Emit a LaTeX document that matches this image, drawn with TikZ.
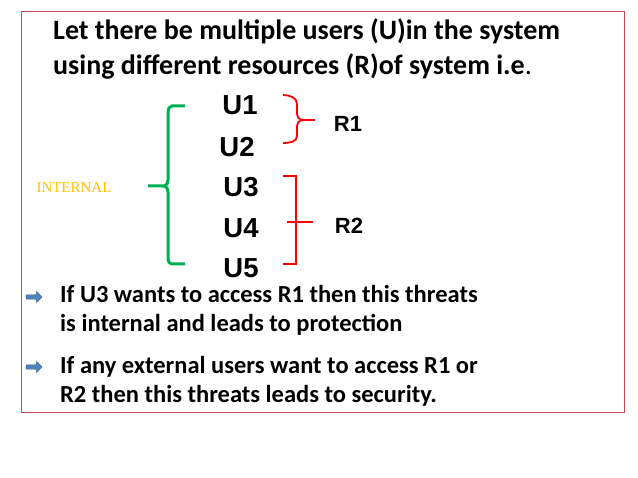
\documentclass[tikz,border=0pt]{standalone}
\usepackage{fontspec}
\setmainfont{Carlito}
\newfontfamily\arialfont{Liberation Sans}
\newfontfamily\serifont{Liberation Serif}
\usetikzlibrary{shapes.arrows}
\definecolor{frame}{RGB}{192,80,77}
\definecolor{bracegreen}{RGB}{0,176,80}
\definecolor{internalorange}{RGB}{255,192,0}
\definecolor{arrowblue}{RGB}{79,129,189}
\tikzset{
  user/.style={font=\arialfont\bfseries\fontsize{27.5}{27.5}\selectfont, anchor=center, inner sep=0pt},
  body/.style={font=\bfseries\fontsize{24.5}{29}\selectfont, anchor=north west, align=left, inner sep=0pt},
  bullet/.style={single arrow, fill=arrowblue, draw=arrowblue!70!black, line width=0.4pt,
    minimum height=16pt, minimum width=11pt, single arrow head extend=2.5pt,
    single arrow head indent=0pt, inner sep=1.5pt}
}
\begin{document}
\begin{tikzpicture}[x=1pt,y=-1pt]
    \useasboundingbox (0,0) rectangle (638,478);
    \draw[frame, line width=1pt] (21,12) rectangle (624,413);
    \node[body, font=\bfseries\fontsize{28}{35}\selectfont] (title) at (53,19)
      {Let there be multiple users (U)in the system\\using different resources (R)of system i.e{\mdseries .}};
    % users
    \node[user] (u1) at (240,105) {U1};
    \node[user] (u2) at (237,147) {U2};
    \node[user] (u3) at (241,187) {U3};
    \node[user] (u4) at (241,228) {U4};
    \node[user] (u5) at (241,268) {U5};
    \node[user, font=\arialfont\bfseries\fontsize{22}{22}\selectfont] (r1) at (348,124) {R1};
    \node[user, font=\arialfont\bfseries\fontsize{22}{22}\selectfont] (r2) at (349,226) {R2};
    \node[font=\serifont\fontsize{15}{15}\selectfont, text=internalorange, inner sep=0pt] (int) at (74,188) {INTERNAL};
    % braces
    \draw[bracegreen, line width=3pt] (185,106) -- (172,106) to[out=180,in=90] (168,112)
      -- (168,180) to[out=-90,in=0] (164,186) -- (148,186);
    \draw[bracegreen, line width=3pt] (164,186) to[out=0,in=90] (168,192)
      -- (168,259) to[out=-90,in=180] (172,264) -- (185,264);
    \draw[red, line width=1.8pt] (283,95) to[out=0,in=90] (297,104) -- (297,114)
      to[out=-90,in=180] (302,120) -- (315,120);
    \draw[red, line width=1.8pt] (302,120) to[out=180,in=90] (297,126) -- (297,136)
      to[out=-90,in=0] (283,143);
    \draw[red, line width=1.8pt] (283,176) -- (296,176) -- (296,264) -- (283,264);
    \draw[red, line width=1.8pt] (287,222) -- (313,222);
    % bullets
    \node[bullet] (b1) at (33,297) {};
    \node[bullet] (b2) at (33,367) {};
    \node[body] (t1) at (60,285)
      {If U3 wants to access R1 then this threats\\is internal and leads to protection};
    \node[body] (t2) at (60,356)
      {If any external users want to access R1 or\\R2 then this threats leads to security.};
\end{tikzpicture}
\end{document}
